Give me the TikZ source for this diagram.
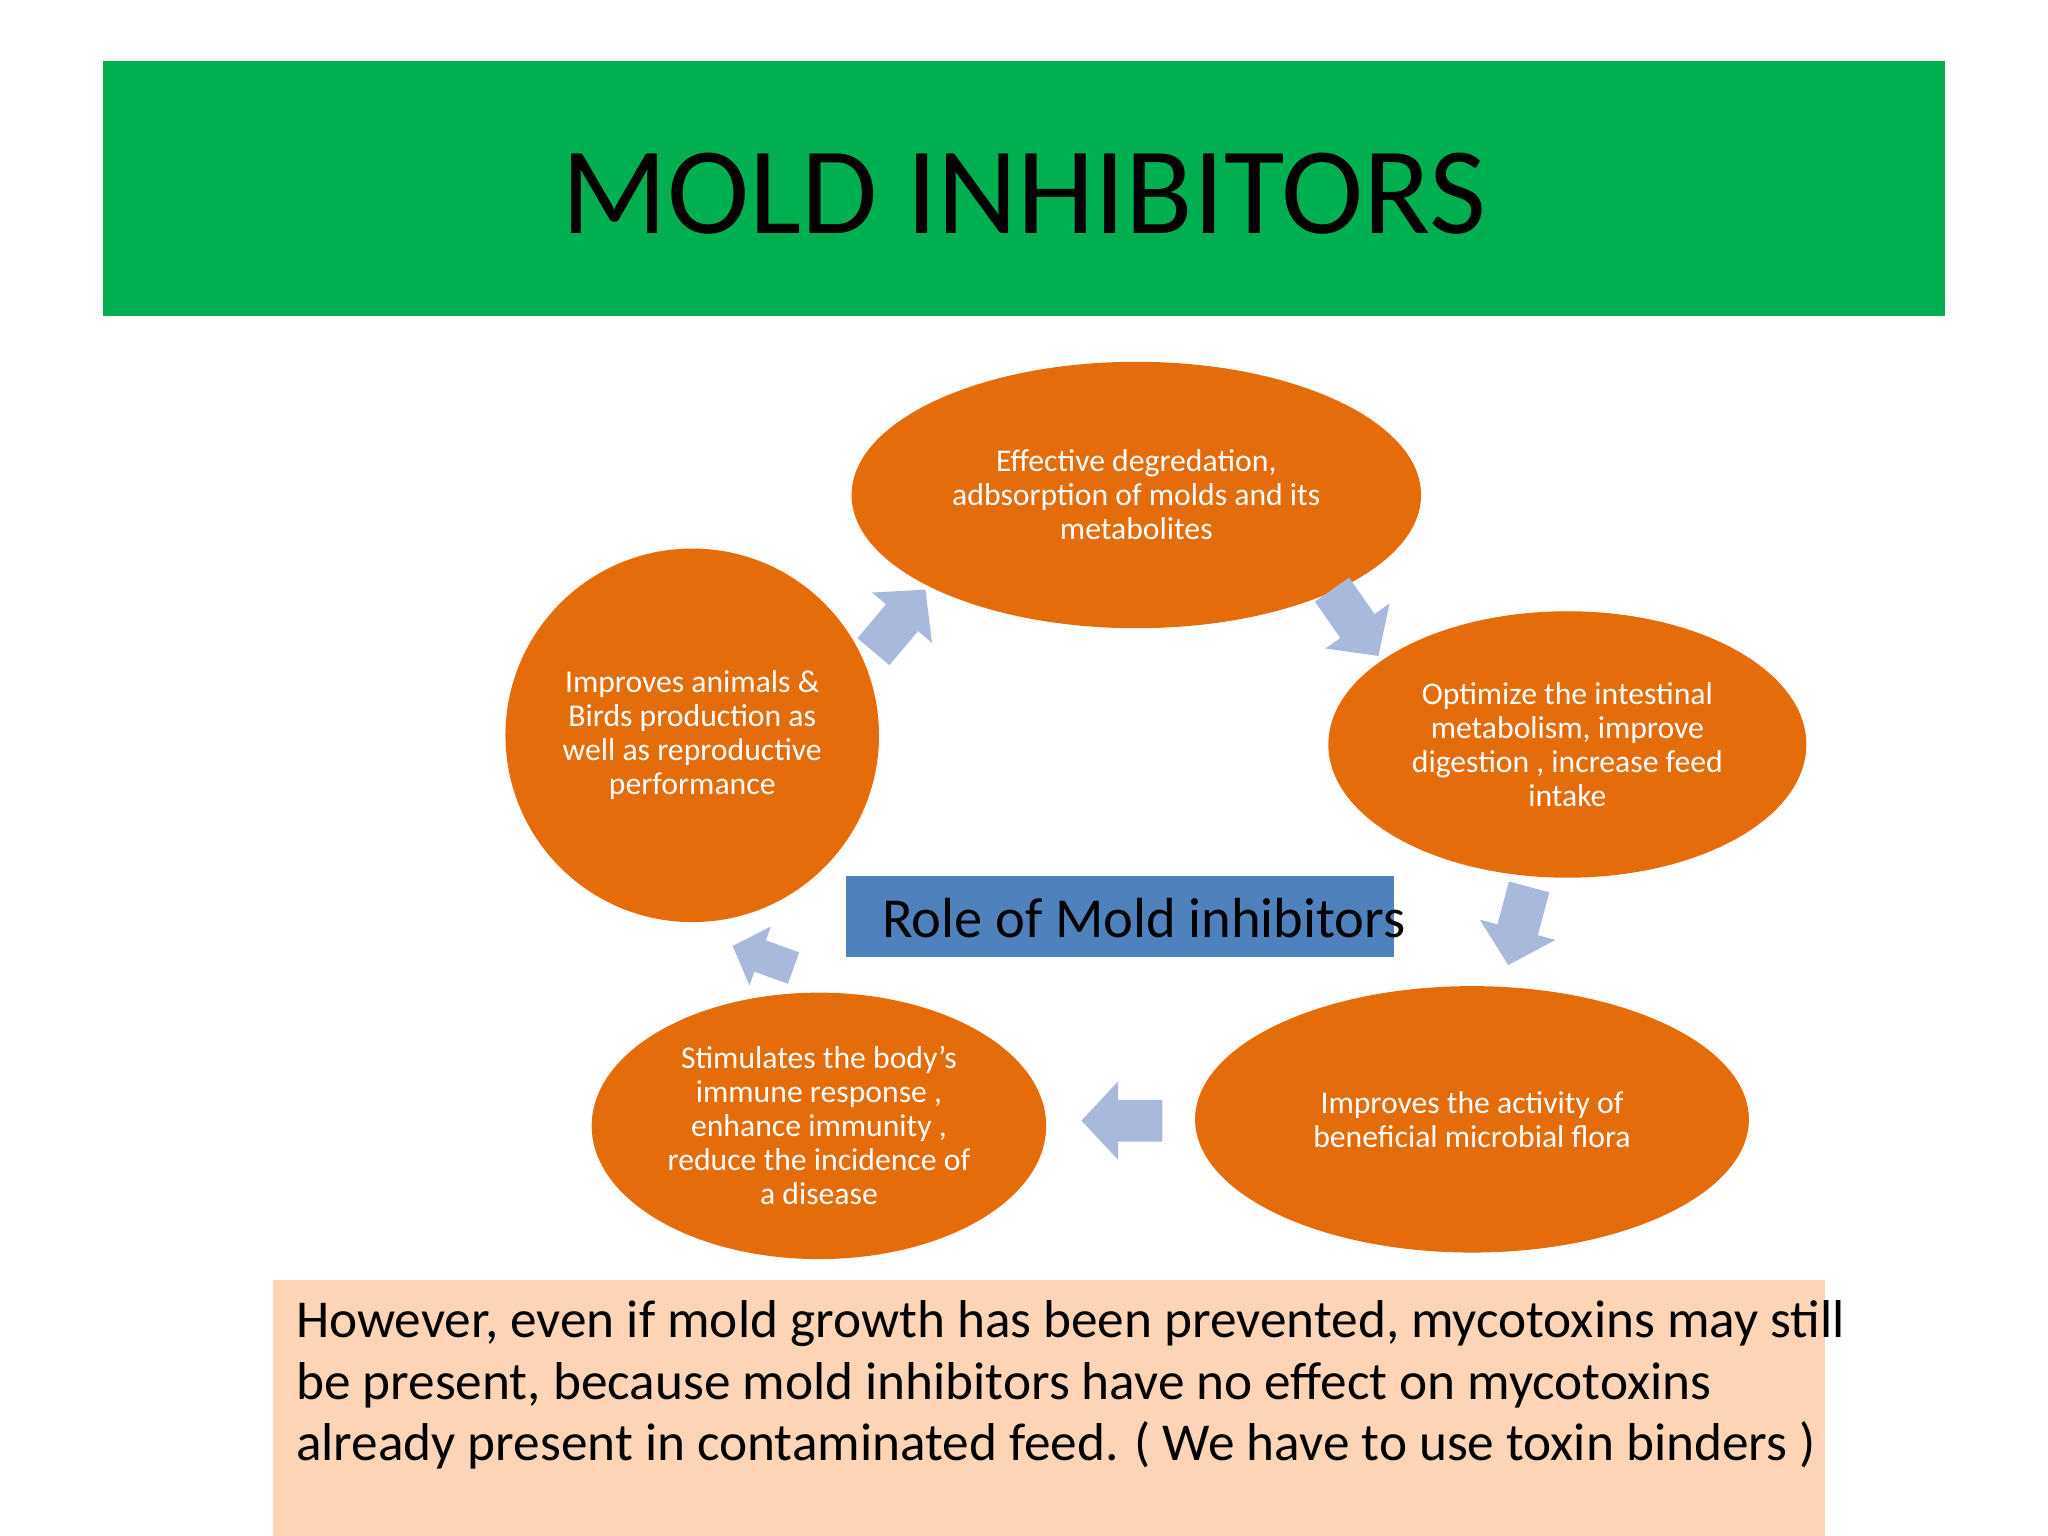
\documentclass[tikz,border=0pt]{standalone}
\usepackage{fontspec}
\setmainfont{Carlito}
\definecolor{grn}{HTML}{00B050}
\definecolor{org}{HTML}{E46C0A}
\definecolor{blu}{HTML}{4F81BD}
\definecolor{peach}{HTML}{FBD5B5}
\definecolor{arr}{HTML}{A9B9DC}
\begin{document}
\begin{tikzpicture}[x=0.01cm,y=-0.01cm,
  btxt/.style={text=white,font=\fontsize{6.9}{7.4}\selectfont,align=center},
  cyc/.pic={\fill[arr] (-30,-16) -- (4,-16) -- (4,-30) -- (32,0) -- (4,30) -- (4,16) -- (-30,16) -- cycle;}]
\useasboundingbox (0,0) rectangle (1568,1176);
\fill[grn] (79,47) rectangle (1489,242);
\node[font=\fontsize{27}{32}\selectfont] (title) at (784,148) {MOLD INHIBITORS};
\fill[org] (870,379) ellipse [x radius=218,y radius=102];
\node[btxt] (top) at (870,379) {Effective degredation,\\adbsorption of molds and its\\metabolites};
\fill[org] (1200,570) ellipse [x radius=183,y radius=102];
\node[btxt] (rt) at (1200,570) {Optimize the intestinal\\metabolism, improve\\digestion , increase feed\\intake};
\fill[org] (1127,857) ellipse [x radius=212,y radius=102];
\node[btxt] (br) at (1127,857) {Improves the activity of\\beneficial microbial flora};
\fill[org] (627,862) ellipse [x radius=174,y radius=102];
\node[btxt] (bl) at (627,862) {Stimulates the body’s\\immune response ,\\enhance immunity ,\\reduce the incidence of\\a disease};
\fill[org] (530,563) circle [radius=143];
\node[btxt] (lf) at (530,563) {Improves animals \&\\Birds production as\\well as reproductive\\performance};
\pic[rotate=50] at (688,476) {cyc};
\pic[rotate=-55] at (1037,476) {cyc};
\pic[rotate=-105] at (1163,708) {cyc};
\pic[rotate=180] at (860,858) {cyc};
\pic[rotate=160,scale=0.8] at (585,733) {cyc};
\fill[blu] (648,671) rectangle (1067,733);
\node[anchor=west,font=\fontsize{12.3}{15}\selectfont] (role) at (663,703) {Role of Mold inhibitors};
\fill[peach] (209,980) rectangle (1397,1176);
\node[anchor=north west,align=left,inner sep=0pt,font=\fontsize{11.6}{13.4}\selectfont] (note) at (226,995) {However, even if mold growth has been prevented, mycotoxins may still\\be present, because mold inhibitors have no effect on mycotoxins\\already present in contaminated feed. ( We have to use toxin binders )};
\end{tikzpicture}
\end{document}
